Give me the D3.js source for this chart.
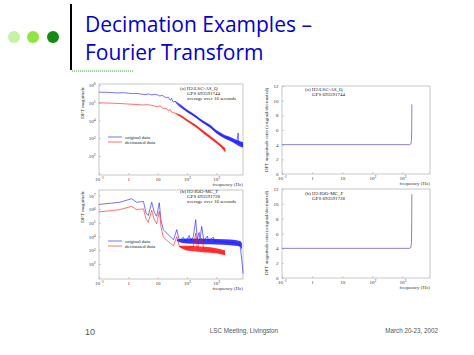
<!DOCTYPE html>
<html>
<head>
<meta charset="utf-8">
<script src="https://cdn.jsdelivr.net/npm/d3@7"></script>
<style>
  body { margin: 0; background: #fff; }
  svg { display: block; }
</style>
</head>
<body>
<svg width="474" height="355"></svg>
<script>
const svg = d3.select("svg");

// ---- text ----
const titleLines = ["Decimation Examples \u2013", "Fourier Transform"];
const pageNumber = "10";
const footerMid = "LSC Meeting, Livingston";
const footerRight = "March 20-23, 2002";
const legendLabels = ["original data", "decimated data"];
const notesA = ["(a) H2:LSC-AS_Q", "GPS 693591744", "average over 16 seconds"];
const notesB = ["(b) H2:IOO-MC_F", "GPS 693591728", "average over 16 seconds"];

// ---- ticks ----
const freqTicks = [0.1, 1, 10, 100, 1000];
const magTicksA = [1e2, 1e3, 1e4, 1e5, 1e6];
const magTicksB = [1e2, 1e3, 1e4, 1e5, 1e6, 1e7];
const ratioTicks = [0, 2, 4, 6, 8, 10, 12];

// ---- (a) H2:LSC-AS_Q  [freq Hz, DFT magnitude] ----
const origA = [
  [0.1, 4.0e5], [0.2, 3.9e5], [0.4, 3.6e5], [0.7, 3.7e5], [1, 3.5e5],
  [1.5, 3.3e5], [2, 3.4e5], [3, 3.0e5], [4, 2.9e5], [5, 3.2e5], [6, 2.8e5],
  [8, 3.0e5], [10, 2.8e5], [12, 2.4e5], [14, 2.7e5], [17, 2.2e5], [20, 1.9e5],
  [23, 2.1e5], [27, 1.4e5], [30, 1.8e5], [34, 1.1e5], [40, 1.2e5], [50, 7.0e4],
  [100, 3.5e4], [200, 1.7e4], [350, 8.5e3], [600, 4.9e3], [1000, 2.3e3],
  [2000, 1.2e3], [3000, 9.0e2], [5000, 5.8e2], [5600, 2.0e3], [5800, 5.5e2],
  [8192, 4.3e2]
];
// noisy part of the spectrum: [freq, lower edge, upper edge]
const origBandA = [
  [40, 1.15e5, 1.25e5], [60, 6.0e4, 8.0e4], [100, 3.0e4, 4.2e4],
  [200, 1.45e4, 2.0e4], [350, 7.2e3, 1.0e4], [600, 4.0e3, 5.9e3],
  [1000, 1.9e3, 2.9e3], [2000, 9.5e2, 1.5e3], [3000, 7.0e2, 1.2e3],
  [5000, 4.3e2, 8.0e2], [7000, 3.2e2, 6.5e2], [8192, 3.0e2, 6.0e2]
];
const deciA = [
  [0.1, 1.0e5], [0.3, 9.5e4], [0.6, 9.0e4], [1, 8.5e4], [2, 8.0e4], [3, 7.6e4],
  [5, 7.8e4], [8, 6.5e4], [10, 6.0e4], [12, 6.8e4], [15, 5.0e4], [20, 4.8e4],
  [23, 3.6e4], [27, 4.2e4], [30, 3.0e4], [40, 2.6e4], [50, 2.0e4], [100, 1.05e4],
  [200, 5.0e3], [350, 2.3e3], [600, 1.2e3], [1000, 6.3e2], [1500, 3.5e2],
  [2048, 2.0e2]
];
const deciBandA = [
  [40, 2.5e4, 2.7e4], [60, 1.7e4, 2.1e4], [100, 9.0e3, 1.2e4],
  [200, 4.2e3, 5.8e3], [350, 2.0e3, 2.8e3], [600, 1.0e3, 1.45e3],
  [1000, 5.2e2, 7.6e2], [1500, 2.9e2, 4.3e2], [2048, 1.6e2, 2.7e2]
];

// ---- (b) H2:IOO-MC_F ----
const origB = [
  [0.1, 2.2e6], [0.52, 3.2e6], [1.3, 5.8e6], [1.9, 3.2e6], [3.3, 3.6e6],
  [4, 5.4e5], [4.8, 3.4e5], [6.3, 3.2e6], [7.7, 6.0e5], [9.3, 3.0e5],
  [11.4, 2.9e6], [13, 1.7e5], [15.6, 3.2e4], [23, 1.35e4], [35, 5.8e3],
  [45, 3.2e4], [55, 5.1e3], [75, 9.0e3], [85, 5.0e3], [98, 5.1e3],
  [120, 1.2e4], [135, 5.0e3], [165, 1.0e4], [199, 1.7e5], [225, 6.6e3],
  [260, 2.0e4], [280, 6.0e3], [318, 5.5e4], [380, 5.1e3], [500, 1.1e4],
  [540, 5.0e3], [800, 9.0e3], [850, 4.6e3], [1340, 4.4e3], [5000, 3.3e3],
  [6500, 2.5e3], [7900, 6.3e1], [8192, 2.0e1]
];
const origBandB = [
  [45, 4.8e3, 6.0e3], [70, 3.4e3, 6.8e3], [150, 3.0e3, 7.2e3],
  [400, 2.7e3, 6.8e3], [1000, 2.6e3, 6.6e3], [3000, 2.3e3, 6.2e3],
  [6500, 1.8e3, 4.8e3], [7500, 1.1e3, 3.3e3]
];
const deciB = [
  [0.1, 6.3e5], [0.52, 9.3e5], [1.3, 1.6e6], [1.9, 9.3e5], [3.3, 1.05e6],
  [4, 1.95e5], [4.8, 1.1e5], [6.3, 8.3e5], [7.7, 1.7e5], [9.3, 8.7e4],
  [11.4, 7.1e5], [13, 5.5e4], [15.6, 9.1e3], [23, 4.4e3], [35, 2.1e3],
  [45, 1.0e4], [55, 1.9e3], [98, 1.4e3], [165, 1.9e3], [199, 1.8e4],
  [225, 1.4e3], [318, 7.8e3], [380, 1.1e3], [1340, 8.0e2], [2000, 5.5e2]
];
const deciBandB = [
  [55, 1.7e3, 2.1e3], [90, 1.0e3, 2.1e3], [200, 8.0e2, 2.0e3],
  [400, 7.0e2, 1.8e3], [1000, 6.0e2, 1.4e3], [2000, 4.3e2, 1.0e3]
];

// ---- ratio original/decimated ----
const ratioA = [[0.1, 4], [1700, 4], [1900, 4.1], [1990, 4.6], [2030, 6.5], [2048, 9.5]];
const ratioB = [[0.1, 4], [1700, 4], [1900, 4.1], [1990, 4.8], [2030, 8], [2048, 11.3]];

const serif = "Liberation Serif, Times New Roman, serif";
const blue = "#1414ff", red = "#ff1010", ratioColor = "#7874c4";

// ---- slide decoration ----
[["#c6f2a4", 14], ["#8ee63e", 33], ["#138a13", 53]].forEach(([c, cx]) => {
  svg.append("circle").attr("cx", cx).attr("cy", 37).attr("r", 6).attr("fill", c);
});
svg.append("line").attr("x1", 71).attr("x2", 71).attr("y1", 4).attr("y2", 70)
  .attr("stroke", "#000").attr("stroke-width", 2);
svg.append("line").attr("x1", 72).attr("x2", 133).attr("y1", 71).attr("y2", 71)
  .attr("stroke", "#3aa83a").attr("stroke-width", 1).attr("stroke-dasharray", "1,1");

svg.selectAll(".title").data(titleLines).join("text")
  .attr("class", "title")
  .attr("x", 85).attr("y", (d, i) => 32 + i * 28)
  .attr("font-family", "Open Sans, sans-serif")
  .attr("font-size", 21).attr("fill", "#0000cc")
  .text(d => d);

const footer = svg.append("g").attr("font-family", "Liberation Sans, Arial, sans-serif").attr("fill", "#555");
footer.append("text").attr("x", 85).attr("y", 335).attr("font-size", 9).text(pageNumber);
footer.append("text").attr("x", 244).attr("y", 333).attr("font-size", 6.3)
  .attr("text-anchor", "middle").text(footerMid);
footer.append("text").attr("x", 438).attr("y", 333).attr("font-size", 6.3)
  .attr("text-anchor", "end").text(footerRight);

// ---- helpers ----
function supText(sel, base, exp) {
  sel.text(base);
  if (exp != null) {
    sel.append("tspan").attr("dy", "-0.45em").attr("font-size", "0.75em").text(exp);
  }
}

function panel(o) {
  const g = svg.append("g");
  const x = d3.scaleLog().domain([0.1, 8192]).range([o.x0, o.x1]);
  const y = (o.log ? d3.scaleLog() : d3.scaleLinear()).domain(o.yDomain).range([o.y1, o.y0]);

  g.append("rect").attr("x", o.x0).attr("y", o.y0)
    .attr("width", o.x1 - o.x0).attr("height", o.y1 - o.y0)
    .attr("fill", "none").attr("stroke", "#a0a0a0").attr("stroke-width", 0.6);

  const xa = g.append("g").attr("transform", `translate(0,${o.y1})`)
    .call(d3.axisBottom(x).tickValues(freqTicks).tickSizeInner(-2).tickSizeOuter(0).tickPadding(2.5));
  const ya = g.append("g").attr("transform", `translate(${o.x0},0)`)
    .call(d3.axisLeft(y).tickValues(o.yTicks).tickSizeInner(-2).tickSizeOuter(0).tickPadding(3.5));

  [xa, ya].forEach(a => {
    a.select(".domain").remove();
    a.selectAll(".tick line").attr("stroke", "#a0a0a0").attr("stroke-width", 0.5);
    a.selectAll("text").attr("font-family", serif).attr("font-size", 5).attr("fill", "#333");
  });
  xa.selectAll(".tick text").each(function (d) {
    const e = Math.round(Math.log10(d));
    const t = d3.select(this);
    if (e === 0) t.text("1");
    else if (e === 1) t.text("10");
    else supText(t, "10", e < 0 ? "\u2212" + (-e) : String(e));
  });
  if (o.log) {
    ya.selectAll(".tick text").each(function (d) {
      supText(d3.select(this), "10", String(Math.round(Math.log10(d))));
    });
  }

  g.append("text").attr("x", o.x1).attr("y", o.y1 + 11)
    .attr("text-anchor", "end").attr("font-family", serif).attr("font-size", 5).attr("fill", "#333")
    .text("frequency (Hz)");

  return { g, x, y };
}

function drawBand(p, data, color) {
  p.g.append("path").datum(data)
    .attr("fill", color).attr("opacity", 0.85)
    .attr("d", d3.area().curve(d3.curveMonotoneX)
      .x(d => p.x(d[0])).y0(d => p.y(d[1])).y1(d => p.y(d[2])));
}
function drawLine(p, data, color, w) {
  p.g.append("path").datum(data)
    .attr("fill", "none").attr("stroke", color).attr("stroke-width", w)
    .attr("d", d3.line().x(d => p.x(d[0])).y(d => p.y(d[1])));
}
function notes(p, lines, x, y) {
  p.g.selectAll(null).data(lines).join("text")
    .attr("x", (d, i) => i === 0 ? x : x + 7)
    .attr("y", (d, i) => y + i * 5)
    .attr("font-family", serif).attr("font-size", 5).attr("fill", "#222")
    .text(d => d);
}
function legend(p, x, y) {
  [blue, red].forEach((c, i) => {
    p.g.append("line").attr("x1", x).attr("x2", x + 14)
      .attr("y1", y + i * 5).attr("y2", y + i * 5)
      .attr("stroke", c).attr("stroke-width", 0.6);
    p.g.append("text").attr("x", x + 17).attr("y", y + i * 5 + 1.6)
      .attr("font-family", serif).attr("font-size", 5).attr("fill", "#222")
      .text(legendLabels[i]);
  });
}
function magLabel(p, x, y) {
  p.g.append("text").attr("transform", `translate(${x},${y}) rotate(-90)`)
    .attr("text-anchor", "end").attr("font-family", serif).attr("font-size", 5).attr("fill", "#222")
    .text("DFT magnitude");
}
function ratioLabel(p, x, y) {
  p.g.append("text").attr("transform", `translate(${x},${y}) rotate(-90)`)
    .attr("text-anchor", "middle").attr("font-family", serif).attr("font-size", 5).attr("fill", "#222")
    .text("DFT magnitude ratio (original/decimated)");
}

// ---- (a) magnitude ----
const pA = panel({ x0: 99, x1: 243, y0: 84, y1: 175, log: true, yDomain: [8.5, 1.15e6], yTicks: magTicksA });
drawLine(pA, origA, blue, 0.6);
drawBand(pA, origBandA, blue);
drawLine(pA, deciA, red, 0.6);
drawBand(pA, deciBandA, red);
legend(pA, 108, 137);
notes(pA, notesA, 180, 90);
magLabel(pA, 84, 87);

// ---- (a) ratio ----
const rA = panel({ x0: 282, x1: 430, y0: 86, y1: 174, log: false, yDomain: [0, 12], yTicks: ratioTicks });
drawLine(rA, ratioA, ratioColor, 0.9);
notes(rA, notesA.slice(0, 2), 305, 91);
ratioLabel(rA, 268, 130);

// ---- (b) magnitude ----
const pB = panel({ x0: 99, x1: 243, y0: 190, y1: 279, log: true, yDomain: [8, 2.5e7], yTicks: magTicksB });
drawLine(pB, origB, blue, 0.6);
drawBand(pB, origBandB, blue);
drawLine(pB, deciB, red, 0.6);
drawBand(pB, deciBandB, red);
legend(pB, 108, 241);
notes(pB, notesB, 180, 193);
magLabel(pB, 84, 191);

// ---- (b) ratio ----
const rB = panel({ x0: 282, x1: 430, y0: 189, y1: 278, log: false, yDomain: [0, 12], yTicks: ratioTicks });
drawLine(rB, ratioB, ratioColor, 0.9);
notes(rB, notesB.slice(0, 2), 305, 195);
ratioLabel(rB, 268, 233);
</script>
</body>
</html>
